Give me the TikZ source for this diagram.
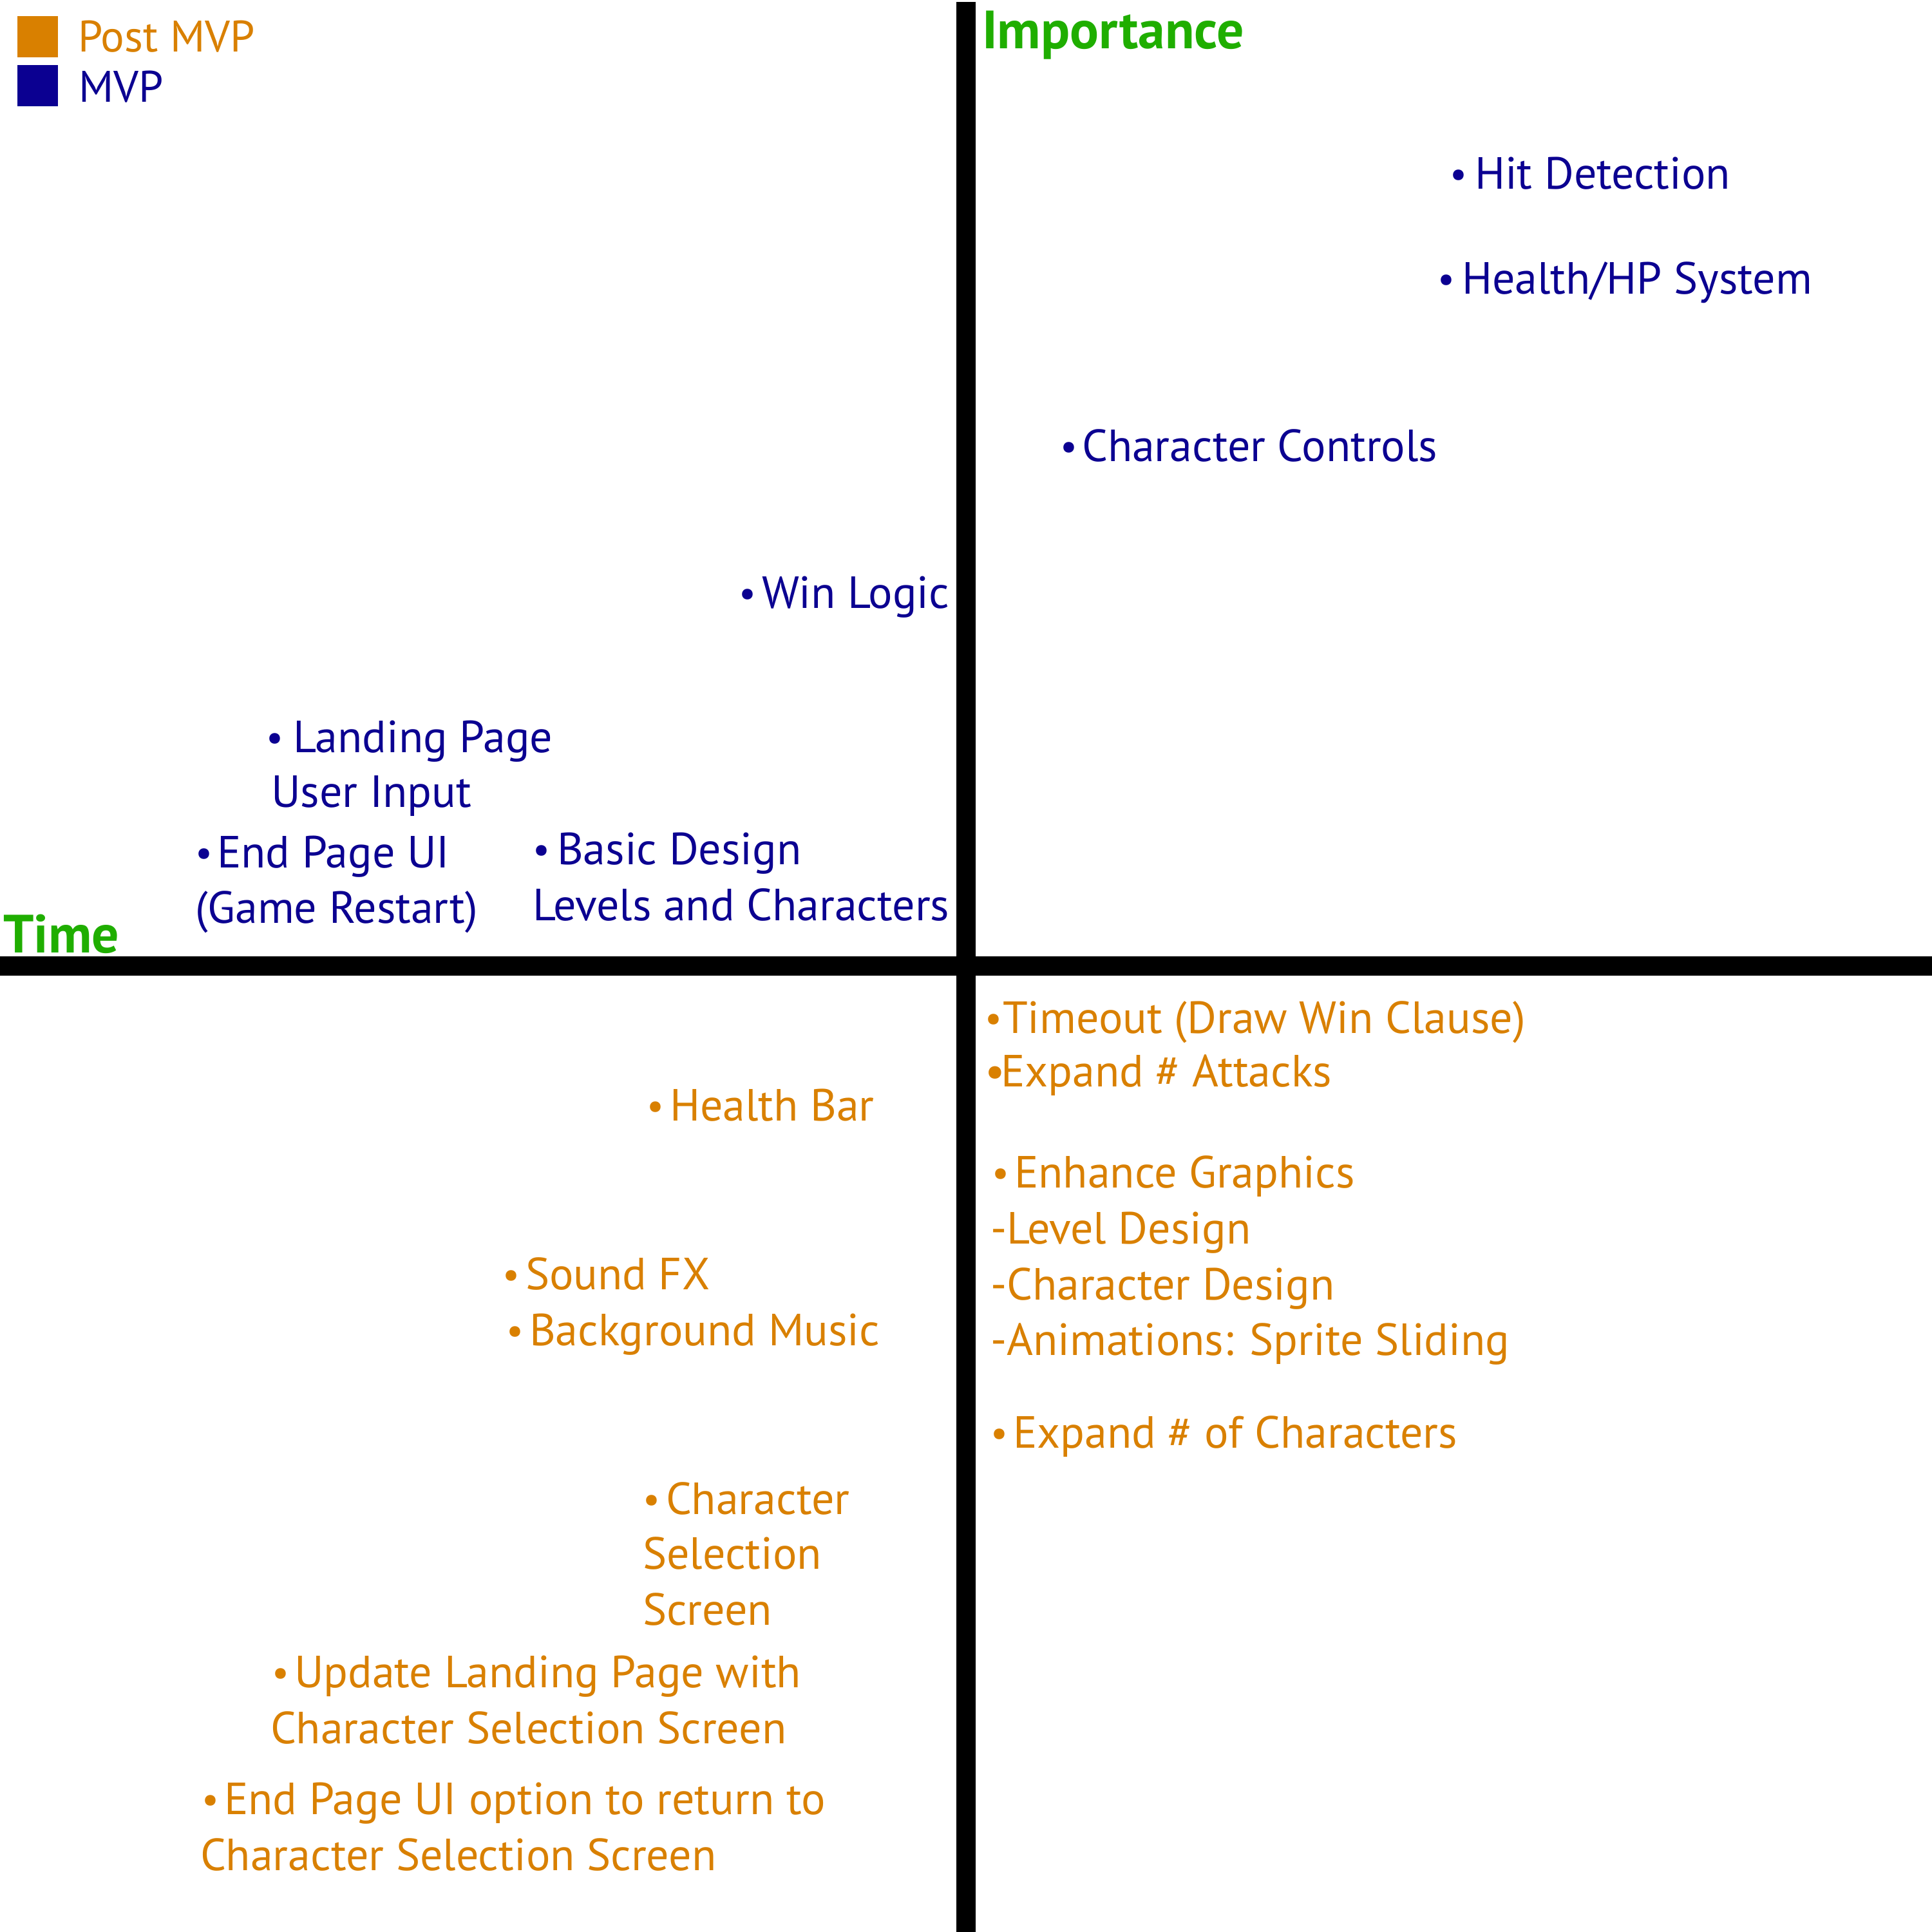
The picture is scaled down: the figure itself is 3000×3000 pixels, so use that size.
\documentclass[tikz,border=0pt]{standalone}
\usepackage{fontspec}
\setmainfont{PT Sans}
\definecolor{postmvp}{HTML}{D98000}
\definecolor{mvp}{HTML}{0B0091}
\definecolor{axisgreen}{HTML}{1FAE00}
\newcommand{\bul}[1][0.36cm]{\makebox[#1][l]{\raisebox{0.03em}{\scalebox{0.85}{\textbullet}}}}
\newcommand{\bigbul}[1][0.25cm]{\makebox[#1][l]{\textbullet}}
\begin{document}
\begin{tikzpicture}[x=0.01cm,y=-0.01cm,
  lbl/.style={inner sep=0pt, outer sep=0pt, anchor=base west, font=\fontsize{19.9}{24}\selectfont},
  mvpitem/.style={lbl, text=mvp},
  postitem/.style={lbl, text=postmvp},
  legendtext/.style={inner sep=0pt, outer sep=0pt, anchor=base west, font=\fontsize{19.5}{24}\selectfont},
  axislabel/.style={lbl, text=axisgreen, font=\bfseries\fontsize{23.8}{28}\selectfont},
  axisline/.style={line width=0.3cm, black},
  legendbox/.style={inner sep=0pt, outer sep=0pt, minimum width=0.63cm, minimum height=0.64cm, anchor=north west}]
\useasboundingbox (0,0) rectangle (3000,3000);
\fill[white] (0,0) rectangle (3000,3000);

% axes
\coordinate (vtop) at (1500,3);
\coordinate (vbot) at (1500,3000);
\coordinate (hleft) at (0,1500);
\coordinate (hright) at (3000,1500);
\draw[axisline] (vtop) -- (vbot);
\draw[axisline] (hleft) -- (hright);

% legend
\node[legendbox, fill=postmvp] (boxpost) at (27,25) {};
\node[legendbox, fill=mvp] (boxmvp) at (27,101) {};
\node[legendtext, text=postmvp] (legpost) at (121,81) {Post MVP};
\node[legendtext, text=mvp] (legmvp) at (122,159) {MVP};

% axis labels
\node[axislabel] (importance) at (1525,76) {Importance};
\node[axislabel] (time) at (5,1479) {Time};

% MVP items
\node[mvpitem] (hit) at (2251,293) {\bul[0.39cm]Hit Detection};
\node[mvpitem] (health) at (2232,456) {\bul[0.38cm]Health/HP System};
\node[mvpitem] (controls) at (1646,716) {\bul[0.34cm]Character Controls};
\node[mvpitem] (win) at (1147,944) {\bul[0.36cm]Win Logic};
\node[mvpitem] (landing1) at (413,1168) {\bul[0.42cm]Landing Page};
\node[mvpitem] (landing2) at (421,1253) {User Input};
\node[mvpitem] (endpage1) at (303,1347) {\bul[0.34cm]End Page UI};
\node[mvpitem] (endpage2) at (303,1433) {(Game Restart)};
\node[mvpitem] (basic1) at (827,1342) {\bul[0.38cm]Basic Design};
\node[mvpitem] (basic2) at (827,1429) {Levels and Characters};

% Post MVP items
\node[postitem] (timeout) at (1529,1604) {\bul[0.28cm]Timeout (Draw Win Clause)};
\node[postitem] (attacks) at (1529,1687) {\bigbul[0.25cm]Expand \# Attacks};
\node[postitem] (graphics1) at (1540,1844) {\bul[0.35cm]Enhance Graphics};
\node[postitem] (graphics2) at (1538,1931) {-Level Design};
\node[postitem] (graphics3) at (1538,2018) {-Character Design};
\node[postitem] (graphics4) at (1538,2104) {-Animations: Sprite Sliding};
\node[postitem] (morechars) at (1538,2248) {\bul[0.35cm]Expand \# of Characters};
\node[postitem] (healthbar) at (1004,1740) {\bul[0.36cm]Health Bar};
\node[postitem] (sound) at (780,2002) {\bul[0.36cm]Sound FX};
\node[postitem] (music) at (786,2089) {\bul[0.36cm]Background Music};
\node[postitem] (select1) at (998,2351) {\bul[0.36cm]Character};
\node[postitem] (select2) at (998,2436) {Selection};
\node[postitem] (select3) at (998,2523) {Screen};
\node[postitem] (update1) at (422,2620) {\bul[0.35cm]Update Landing Page with};
\node[postitem] (update2) at (420,2707) {Character Selection Screen};
\node[postitem] (endopt1) at (313,2817) {\bul[0.35cm]End Page UI option to return to};
\node[postitem] (endopt2) at (311,2904) {Character Selection Screen};
\end{tikzpicture}
\end{document}
